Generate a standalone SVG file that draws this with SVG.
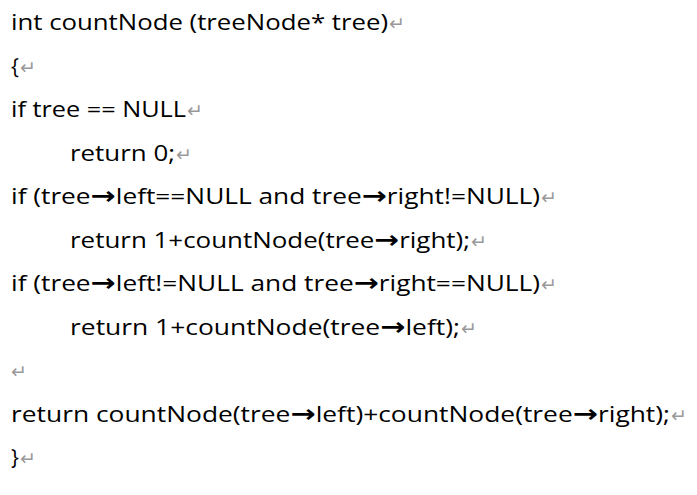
<svg xmlns="http://www.w3.org/2000/svg" width="697" height="495" viewBox="0 0 697 495">
<style>
.t{font-family:"Open Sans","Liberation Sans",sans-serif;font-size:21px;fill:#000}
.r{font-family:"DejaVu Sans",sans-serif;font-size:19px;fill:#999}
.a{font-family:"DejaVu Sans",sans-serif;font-weight:bold;font-size:24px}
</style>
<rect width="697" height="495" fill="#fff"/>
<g id="code">
<text class="t" x="11" y="30" textLength="377" lengthAdjust="spacingAndGlyphs">int countNode (treeNode* tree)</text><text class="r" x="389" y="30">↵</text>
<text class="t" x="11" y="74">{</text><text class="r" x="20" y="74">↵</text>
<text class="t" x="11" y="117" textLength="175" lengthAdjust="spacingAndGlyphs">if tree == NULL</text><text class="r" x="187" y="117">↵</text>
<text class="t" x="70" y="161" textLength="105" lengthAdjust="spacingAndGlyphs">return 0;</text><text class="r" x="176" y="161">↵</text>
<text class="t" x="11" y="204" textLength="529" lengthAdjust="spacingAndGlyphs">if (tree<tspan class="a">→</tspan>left==NULL and tree<tspan class="a">→</tspan>right!=NULL)</text><text class="r" x="541" y="204">↵</text>
<text class="t" x="70" y="248" textLength="400" lengthAdjust="spacingAndGlyphs">return 1+countNode(tree<tspan class="a">→</tspan>right);</text><text class="r" x="471" y="248">↵</text>
<text class="t" x="11" y="291" textLength="529" lengthAdjust="spacingAndGlyphs">if (tree<tspan class="a">→</tspan>left!=NULL and tree<tspan class="a">→</tspan>right==NULL)</text><text class="r" x="541" y="291">↵</text>
<text class="t" x="70" y="335" textLength="390" lengthAdjust="spacingAndGlyphs">return 1+countNode(tree<tspan class="a">→</tspan>left);</text><text class="r" x="461" y="335">↵</text>
<text class="r" x="11" y="378">↵</text>
<text class="t" x="11" y="422" textLength="659" lengthAdjust="spacingAndGlyphs">return countNode(tree<tspan class="a">→</tspan>left)+countNode(tree<tspan class="a">→</tspan>right);</text><text class="r" x="671" y="422">↵</text>
<text class="t" x="11" y="465">}</text><text class="r" x="20" y="465">↵</text>
</g>
</svg>
